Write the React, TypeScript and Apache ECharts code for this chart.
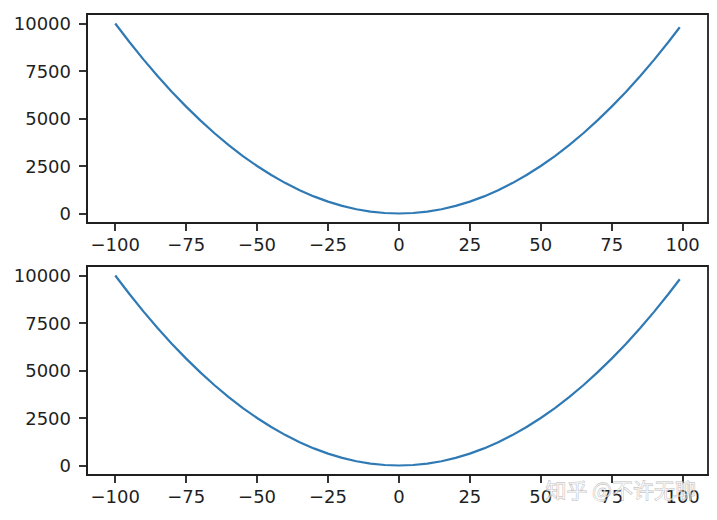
import React, { useEffect, useRef } from "react";
import * as echarts from "echarts";

const xValues = [
  -100, -95, -90, -85, -80, -75, -70, -65, -60, -55, -50, -45, -40, -35, -30, -25, -20, -15, -10, -5,
  0, 5, 10, 15, 20, 25, 30, 35, 40, 45, 50, 55, 60, 65, 70, 75, 80, 85, 90, 95, 99,
];
const yValues = [
  10000, 9025, 8100, 7225, 6400, 5625, 4900, 4225, 3600, 3025, 2500, 2025, 1600, 1225, 900, 625, 400, 225, 100, 25,
  0, 25, 100, 225, 400, 625, 900, 1225, 1600, 2025, 2500, 3025, 3600, 4225, 4900, 5625, 6400, 7225, 8100, 9025, 9801,
];
const xTicks = [-100, -75, -50, -25, 0, 25, 50, 75, 100];
const yTicks = [0, 2500, 5000, 7500, 10000];
const watermark = "知乎 @不许无聊";

const INK = "#1f1f1f";
const LINE = "#2f7ab5";

const fmt = (v: number) => (v < 0 ? "\u2212" + String(-v) : String(v));

export default function App() {
  const ref = useRef<HTMLDivElement>(null);
  useEffect(() => {
    document.body.style.margin = "0";
    const chart = echarts.init(ref.current!, null, { renderer: "svg" });
    const points = xValues.map((x, i) => [x, yValues[i]]);
    const font = "DejaVu Sans";
    const mkX = (gi: number) => ({
      type: "value" as const,
      gridIndex: gi,
      min: -109.95,
      max: 108.95,
      splitLine: { show: false },
      axisLine: { show: true, onZero: false, lineStyle: { color: INK, width: 1.8 } },
      axisTick: { show: true, length: 8, customValues: xTicks, lineStyle: { color: INK, width: 1.8 } },
      axisLabel: {
        customValues: xTicks,
        formatter: fmt,
        color: INK,
        fontSize: 18,
        fontFamily: font,
        margin: 12,
      },
    });
    const mkY = (gi: number) => ({
      type: "value" as const,
      gridIndex: gi,
      min: -500,
      max: 10500,
      splitLine: { show: false },
      axisLine: { show: true, onZero: false, lineStyle: { color: INK, width: 1.8 } },
      axisTick: { show: true, length: 8, customValues: yTicks, lineStyle: { color: INK, width: 1.8 } },
      axisLabel: {
        customValues: yTicks,
        formatter: fmt,
        color: INK,
        fontSize: 18,
        fontFamily: font,
        margin: 16,
      },
    });
    const gridBase = {
      left: 87,
      width: 621,
      height: 209,
      show: true,
      borderColor: INK,
      borderWidth: 1.8,
      backgroundColor: "transparent",
    };
    chart.setOption({
      animation: false,
      backgroundColor: "#ffffff",
      grid: [
        { ...gridBase, top: 14 },
        { ...gridBase, top: 266 },
      ],
      xAxis: [mkX(0), mkX(1)],
      yAxis: [mkY(0), mkY(1)],
      series: [0, 1].map((gi) => ({
        type: "line",
        xAxisIndex: gi,
        yAxisIndex: gi,
        data: points,
        showSymbol: false,
        smooth: false,
        lineStyle: { color: LINE, width: 2.2 },
      })),
      graphic: [
        {
          type: "text",
          left: 545,
          top: 478,
          z: 100,
          style: {
            text: watermark,
            fontSize: 21,
            fontFamily: "Noto Sans CJK SC",
            fill: "rgba(255,255,255,0.6)",
            stroke: "rgba(120,120,120,0.5)",
            lineWidth: 0.8,
          },
        },
      ],
    });
    return () => chart.dispose();
  }, []);
  return <div ref={ref} style={{ width: 717, height: 520 }} />;
}
